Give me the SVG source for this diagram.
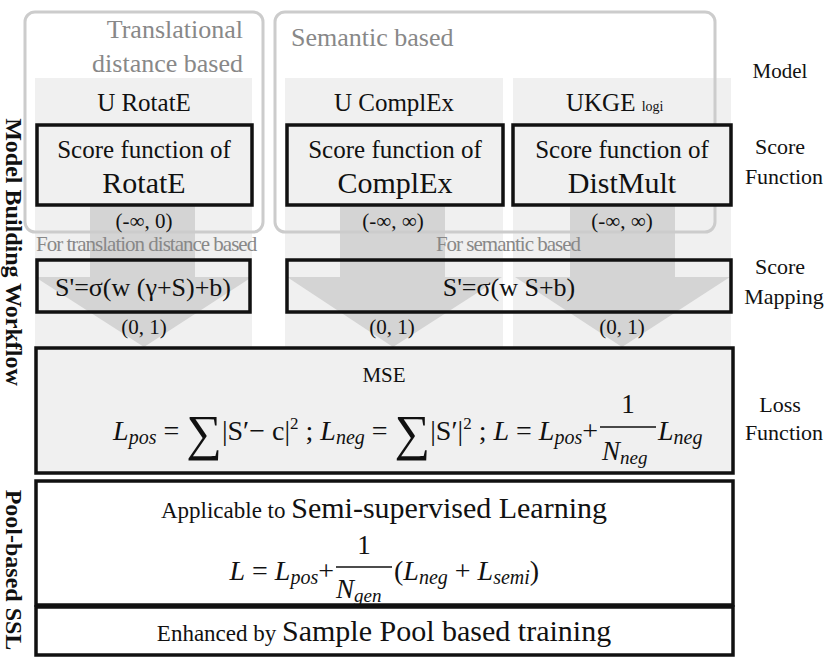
<svg xmlns="http://www.w3.org/2000/svg" width="832" height="672" viewBox="0 0 832 672">
<style>
text{font-family:'Liberation Serif','Times New Roman','DejaVu Serif',serif}
.t{fill:#111}
.g{fill:#888}
.box{fill:#f0f0f0;stroke:#111;stroke-width:3.5}
.wbox{fill:#fff;stroke:#111;stroke-width:3.5}
.nbox{fill:none;stroke:#111;stroke-width:3.5}
.col{fill:#f0f0f0}
.arr{fill:#d4d4d4}
.grp{fill:none;stroke:#ccc;stroke-width:3}
.m{font-style:italic;fill:#111}
</style>
<rect width="832" height="672" fill="#fff"/>
<g id="columns">
<rect class="col" x="35" y="78" width="217" height="270"/>
<rect class="col" x="285" y="78" width="218" height="270"/>
<rect class="col" x="513" y="78" width="218" height="270"/>
<polygon class="arr" points="90,205 195,205 195,277 252,277 144,347 35,277 90,277"/>
<polygon class="arr" points="340,205 445,205 445,277 502,277 393,347 287,277 340,277"/>
<polygon class="arr" points="570,205 675,205 675,277 730,277 622,347 515,277 570,277"/>
</g>
<g id="groups">
<rect class="grp" x="25" y="12" width="238" height="220" rx="10"/>
<rect class="grp" x="275" y="12" width="440" height="220" rx="10"/>
<text class="g" x="243" y="38" font-size="26" text-anchor="end">Translational</text>
<text class="g" x="243" y="72" font-size="26" text-anchor="end">distance based</text>
<text class="g" x="291" y="46" font-size="26">Semantic based</text>
</g>
<g id="col-labels">
<text class="t" x="144" y="111" font-size="25" text-anchor="middle">U RotatE</text>
<text class="t" x="394" y="111" font-size="25" text-anchor="middle">U ComplEx</text>
<text class="t" x="566" y="111" font-size="25">UKGE <tspan font-size="14">logi</tspan></text>
</g>
<g id="sf1"><rect class="box" x="37" y="125" width="215" height="80"/>
<text class="t" x="144" y="158" font-size="25" text-anchor="middle">Score function of</text>
<text class="t" x="144" y="193" font-size="30" text-anchor="middle">RotatE</text></g>
<g id="sf2"><rect class="box" x="287" y="125" width="216" height="80"/>
<text class="t" x="395" y="158" font-size="25" text-anchor="middle">Score function of</text>
<text class="t" x="395" y="193" font-size="30" text-anchor="middle">ComplEx</text></g>
<g id="sf3"><rect class="box" x="513" y="125" width="218" height="80"/>
<text class="t" x="622" y="158" font-size="25" text-anchor="middle">Score function of</text>
<text class="t" x="622" y="193" font-size="30" text-anchor="middle">DistMult</text></g>
<g id="ranges">
<text class="t" x="144" y="228" font-size="21" text-anchor="middle">(-∞, 0)</text>
<text class="t" x="393" y="228" font-size="21" text-anchor="middle">(-∞, ∞)</text>
<text class="t" x="622" y="228" font-size="21" text-anchor="middle">(-∞, ∞)</text>
<text class="g" x="36" y="251" font-size="21" letter-spacing="-1">For translation distance based</text>
<text class="g" x="508" y="251" font-size="21" text-anchor="middle" letter-spacing="-1">For semantic based</text>
</g>
<g id="map1"><rect class="nbox" x="37" y="260" width="213" height="52"/>
<text class="t" x="143" y="296" font-size="26" text-anchor="middle">S'=σ(w (γ+S)+b)</text></g>
<g id="map2"><rect class="nbox" x="287" y="260" width="444" height="52"/>
<text class="t" x="509" y="296" font-size="26" text-anchor="middle">S'=σ(w S+b)</text></g>
<g id="out">
<text class="t" x="144" y="334" font-size="21" text-anchor="middle">(0, 1)</text>
<text class="t" x="392" y="334" font-size="21" text-anchor="middle">(0, 1)</text>
<text class="t" x="622" y="334" font-size="21" text-anchor="middle">(0, 1)</text>
</g>
<g id="loss"><rect class="box" x="36" y="348" width="697" height="125"/>
<text class="t" x="384" y="382" font-size="21" text-anchor="middle">MSE</text>
<text class="m" x="598" y="440" font-size="28" text-anchor="end">L<tspan font-size="20" dy="4">pos</tspan><tspan dy="-4" font-style="normal"> = </tspan><tspan font-style="normal" font-size="50" dy="10">∑</tspan><tspan font-style="normal" dy="-10">|S′− c|</tspan><tspan font-style="normal" font-size="17" dy="-11">2</tspan><tspan font-style="normal" dy="11"> ; </tspan>L<tspan font-size="20" dy="4">neg</tspan><tspan dy="-4" font-style="normal"> = </tspan><tspan font-style="normal" font-size="50" dy="10">∑</tspan><tspan font-style="normal" dy="-10">|S′|</tspan><tspan font-style="normal" font-size="17" dy="-11">2</tspan><tspan font-style="normal" dy="11"> ; </tspan>L<tspan font-style="normal"> = </tspan>L<tspan font-size="20" dy="4">pos</tspan><tspan dy="-4" font-style="normal">+</tspan></text>
<text class="t" x="628" y="413" font-size="27" text-anchor="middle">1</text>
<line x1="600" y1="427" x2="656" y2="427" stroke="#111" stroke-width="1.5"/>
<text class="m" x="602" y="460" font-size="27">N<tspan font-size="19" dy="4">neg</tspan></text>
<text class="m" x="658" y="440" font-size="28">L<tspan font-size="20" dy="4">neg</tspan></text>
</g>
<g id="ssl"><rect class="wbox" x="36" y="481" width="697" height="124"/>
<text class="t" x="384" y="518" font-size="23" text-anchor="middle">Applicable to <tspan font-size="30">Semi-supervised Learning</tspan></text>
<text class="m" x="334" y="580" font-size="28" text-anchor="end">L<tspan font-style="normal"> = </tspan>L<tspan font-size="20" dy="4">pos</tspan><tspan dy="-4" font-style="normal">+</tspan></text>
<text class="t" x="364" y="554" font-size="27" text-anchor="middle">1</text>
<line x1="336" y1="567" x2="392" y2="567" stroke="#111" stroke-width="1.5"/>
<text class="m" x="336" y="598" font-size="27">N<tspan font-size="19" dy="4">gen</tspan></text>
<text class="m" x="394" y="580" font-size="28"><tspan font-style="normal">(</tspan>L<tspan font-size="20" dy="4">neg</tspan><tspan dy="-4" font-style="normal"> + </tspan>L<tspan font-size="20" dy="4">semi</tspan><tspan dy="-4" font-style="normal">)</tspan></text>
</g>
<g id="pool"><rect class="wbox" x="36" y="607" width="697" height="48"/>
<text class="t" x="384" y="641" font-size="23" text-anchor="middle">Enhanced by <tspan font-size="30">Sample Pool based training</tspan></text>
</g>
<g id="side">
<text class="t" x="780" y="78" font-size="21" text-anchor="middle">Model</text>
<text class="t" x="780" y="154" font-size="22" text-anchor="middle">Score</text>
<text class="t" x="784" y="184" font-size="22" text-anchor="middle">Function</text>
<text class="t" x="780" y="274" font-size="22" text-anchor="middle">Score</text>
<text class="t" x="784" y="304" font-size="22" text-anchor="middle">Mapping</text>
<text class="t" x="780" y="412" font-size="22" text-anchor="middle">Loss</text>
<text class="t" x="784" y="440" font-size="22" text-anchor="middle">Function</text>
<text class="t" font-size="24" font-weight="bold" text-anchor="middle" transform="translate(6,252) rotate(90)">Model Building Workflow</text>
<text class="t" font-size="24" font-weight="bold" text-anchor="middle" transform="translate(6,570) rotate(90)">Pool-based SSL</text>
</g>
</svg>
